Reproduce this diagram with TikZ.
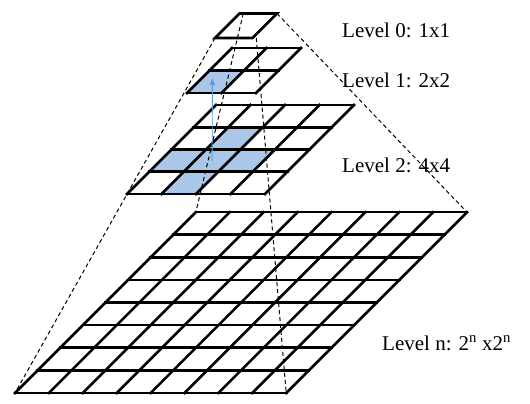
\documentclass[tikz,border=0pt]{standalone}
\usepackage{fontspec}
\setmainfont{Liberation Serif}
\usepackage{xcolor}
\usetikzlibrary{arrows.meta}
\definecolor{picked}{RGB}{170,198,232}
\definecolor{pointer}{RGB}{95,155,215}
\tikzstyle{gridline}=[line width=2.6pt, line cap=rect]
\tikzset{hidden/.style={line width=1pt, dash pattern=on 4pt off 3pt}}
\tikzset{cell/.style={fill=picked}}
\tikzset{label/.style={anchor=west, inner sep=0pt, font=\fontsize{21}{24}\selectfont}}

\begin{document}
\begin{tikzpicture}[x=1pt,y=1pt]
  \useasboundingbox (0,0) rectangle (530,404);

  %% Level n
  \begin{scope}[shift={(15,11)}, x={(33.9pt,0pt)}, y={(22.6pt,22.6pt)}]
    \foreach \k in {0,...,8} {
      \draw[gridline] (\k,0) -- (\k,8);
      \draw[gridline] (0,\k) -- (8,\k);
    }
    \coordinate (Ln-bl) at (0,0);
    \coordinate (Ln-br) at (8,0);
    \coordinate (Ln-tl) at (0,8);
    \coordinate (Ln-tr) at (8,8);
  \end{scope}

  %% Level 2
  \begin{scope}[shift={(127,210)}, x={(34.5pt,0pt)}, y={(22.25pt,22.25pt)}]
    \fill[cell] (0,1) -- (3,1) -- (3,2) -- (0,2) -- cycle;
    \fill[cell] (1,0) -- (2,0) -- (2,3) -- (1,3) -- cycle;
    \foreach \k in {0,...,4} {
      \draw[gridline] (\k,0) -- (\k,4);
      \draw[gridline] (0,\k) -- (4,\k);
    }
    \coordinate (L2-mid) at (1.5,1.5);
  \end{scope}

  %% Level 1
  \begin{scope}[shift={(187,311)}, x={(34.5pt,0pt)}, y={(22.5pt,22.5pt)}]
    \fill[cell] (0,0) -- (1,0) -- (1,1) -- (0,1) -- cycle;
    \foreach \k in {0,...,2} {
      \draw[gridline] (\k,0) -- (\k,2);
      \draw[gridline] (0,\k) -- (2,\k);
    }
    \coordinate (L1-mid) at (0.3,0.67);
  \end{scope}

  %% Level 0
  \begin{scope}[shift={(215,366)}, x={(37.5pt,0pt)}, y={(24.5pt,24.5pt)}]
    \draw[gridline] (0,0) -- (1,0) -- (1,1) -- (0,1) -- cycle;
    \coordinate (L0-bl) at (0,0);
    \coordinate (L0-br) at (1.1,0);
    \coordinate (L0-tl) at (0.1,1);
    \coordinate (L0-tr) at (1,1);
  \end{scope}

  %% Pyramid edges
  \draw[hidden] (L0-bl) -- (Ln-bl);
  \draw[hidden] (L0-br) -- (Ln-br);
  \draw[hidden] (L0-tl) -- (Ln-tl);
  \draw[hidden] (L0-tr) -- (Ln-tr);

  %% Parent pointer
  \draw[-{Latex[length=7pt,width=6pt]}, line width=0.9pt, color=pointer] (L2-mid) -- (L1-mid);

  %% Labels
  \node[label] (lab0) at (342,374) {Level 0: 1x1};
  \node[label] (lab1) at (342,324) {Level 1: 2x2};
  \node[label] (lab2) at (342,239) {Level 2: 4x4};
  \node[label] (labn) at (382,61) {Level n: 2\textsuperscript{n} x2\textsuperscript{n}};
\end{tikzpicture}
\end{document}
